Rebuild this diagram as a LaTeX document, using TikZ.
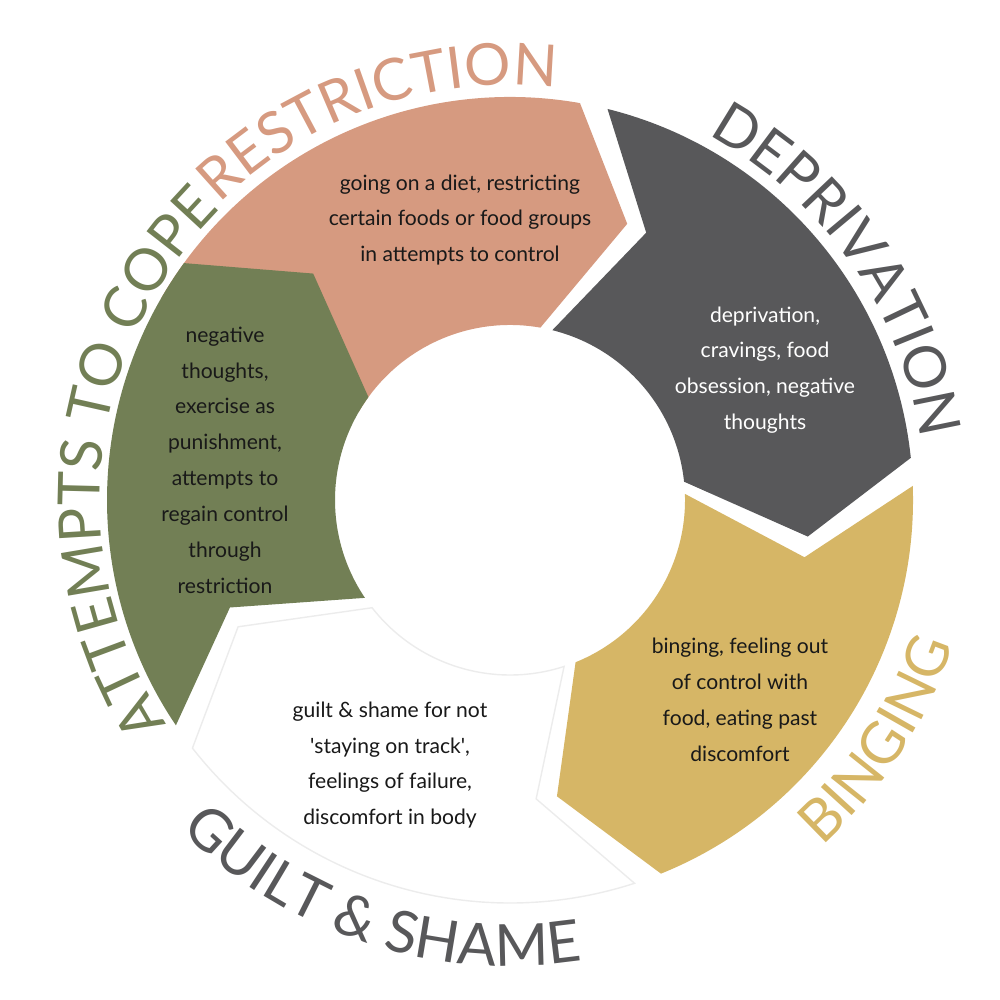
\documentclass[tikz,border=0pt]{standalone}
\usepackage{fontspec}
\setmainfont{Lato}
\usetikzlibrary{decorations.text}
\definecolor{cres}{HTML}{D69A80}
\definecolor{cdep}{HTML}{58585A}
\definecolor{cbin}{HTML}{D6B666}
\definecolor{catt}{HTML}{727F55}
\newcommand\segshape[3]{\fill[#1] (#2:4.03) arc[start angle=#2,end angle=#3,radius=4.03] -- (#3-13:3.0) -- (#3:1.75) arc[start angle=#3,end angle=#2,radius=1.75] -- (#2-13:3.0) -- cycle;}
\tikzset{body/.style={align=center,font=\fontsize{6}{10.2}\selectfont,text=black!90}}
\newcommand\tf{\fontsize{16.5}{19}\selectfont}
\newcommand\amp{\&}
\begin{document}
\begin{tikzpicture}
\useasboundingbox (0,0) rectangle (10,10);
\begin{scope}[shift={(5.1,5.0)}]
\segshape{cres}{150}{80}
\segshape{cdep}{76}{6}
\segshape{cbin}{2}{-68}
\draw[gray!15,fill=white] (-72:4.03) arc[start angle=-72,end angle=-142,radius=4.03] -- (-155:3.0) -- (-142:1.75) arc[start angle=-142,end angle=-72,radius=1.75] -- (-85:3.0) -- cycle;
\segshape{catt}{-146}{-216}
\path[decorate,decoration={text along path,text align=center,text color=cres,text={|\tf|RESTRICTION}}] (152:4.15) arc[start angle=152,end angle=66,radius=4.15];
\path[decorate,decoration={text along path,text align=center,text color=cdep,text={|\tf|DEPRIVATION}}] (75:4.15) arc[start angle=75,end angle=-5,radius=4.15];
\path[decorate,decoration={text along path,text align=center,text color=cbin,text={|\tf|BINGING}}] (-60:4.66) arc[start angle=-60,end angle=-6,radius=4.66];
\path[decorate,decoration={text along path,text align=center,text color=cdep,text={|\tf|GUILT {\amp} SHAME}}] (-152:4.66) arc[start angle=-152,end angle=-64,radius=4.66];
\path[decorate,decoration={text along path,text align=center,text color=catt,text={|\tf|ATTEMPTS TO COPE}}] (-140:4.1) arc[start angle=-140,end angle=-232,radius=4.1];
\end{scope}
\node[body] (tres) at (4.6,7.8) {going on a diet, restricting\\certain foods or food groups\\in attempts to control};
\node[body,text=white] (tdep) at (7.65,6.3) {deprivation,\\cravings, food\\obsession, negative\\thoughts};
\node[body] (tbin) at (7.4,3.0) {binging, feeling out\\of control with\\food, eating past\\discomfort};
\node[body] (tgui) at (3.9,2.35) {guilt \& shame for not\\\textquotesingle staying on track\textquotesingle,\\feelings of failure,\\discomfort in body};
\node[body] (tatt) at (2.25,5.4) {negative\\thoughts,\\exercise as\\punishment,\\attempts to\\regain control\\through\\restriction};
\end{tikzpicture}
\end{document}
